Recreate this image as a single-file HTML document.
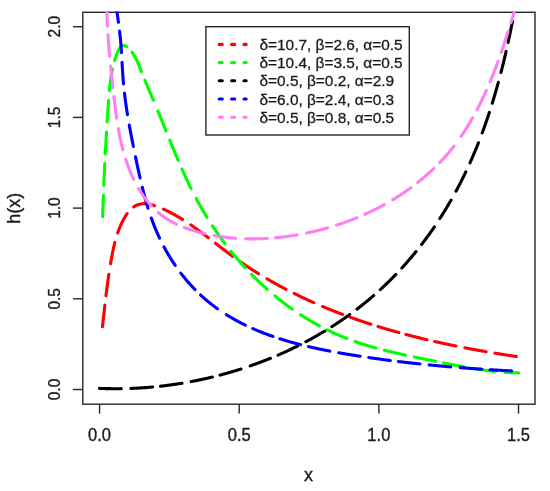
<!DOCTYPE html>
<html><head><meta charset="utf-8"><style>
html,body{margin:0;padding:0;background:#fff;}
body{width:550px;height:491px;overflow:hidden;}
svg{display:block;}
.tl{font-family:"Liberation Sans",Arial,sans-serif;font-size:18px;fill:#1a1a1a;stroke:#1a1a1a;stroke-width:0.35px;}
.lg{font-family:"Liberation Sans",Arial,sans-serif;font-size:15.4px;fill:#1a1a1a;stroke:#1a1a1a;stroke-width:0.3px;}
</style></head><body>
<svg width="550" height="491" viewBox="0 0 550 491">
<rect width="550" height="491" fill="#fff"/>
<defs><clipPath id="pc"><rect x="81.89999999999999" y="11.4" width="454.0" height="393.7"/></clipPath></defs>
<rect x="82.8" y="12.3" width="452.2" height="391.9" fill="none" stroke="#262626" stroke-width="1.4"/>
<g clip-path="url(#pc)" fill="none" stroke-linecap="round" stroke-linejoin="round">
<path d="M102.47,326.66 L102.47,326.64 L102.53,326.10 L102.59,325.57 L102.65,325.03 L102.71,324.49 L102.77,323.95 L102.83,323.41 L102.89,322.87 L102.95,322.33 L103.01,321.79 L103.07,321.25 L103.12,320.70 L103.18,320.16 L103.24,319.62 L103.30,319.08 L103.36,318.54 L103.42,318.00 L103.48,317.45 L103.54,316.91 L103.60,316.37 L103.66,315.82 L103.72,315.28 L103.78,314.74 L103.84,314.19 L103.91,313.65 L103.97,313.11 L104.03,312.56 L104.09,312.02 L104.15,311.47 L104.21,310.93 L104.27,310.38 L104.33,309.84 L104.39,309.29 L104.46,308.75 L104.52,308.20 L104.58,307.66 L104.64,307.11 L104.70,306.57 L104.77,306.02 L104.83,305.48 L104.87,305.09 M105.98,295.73 L105.99,295.65 L106.06,295.10 L106.13,294.56 L106.19,294.01 L106.26,293.47 L106.33,292.92 L106.40,292.38 L106.46,291.83 L106.53,291.29 L106.60,290.74 L106.67,290.20 L106.74,289.65 L106.81,289.11 L106.88,288.56 L106.95,288.02 L107.02,287.47 L107.09,286.93 L107.17,286.39 L107.24,285.84 L107.31,285.30 L107.38,284.76 L107.46,284.21 L107.53,283.67 L107.60,283.13 L107.68,282.58 L107.75,282.04 L107.83,281.50 L107.90,280.96 L107.98,280.42 L108.05,279.87 L108.13,279.33 L108.21,278.79 L108.28,278.25 L108.36,277.71 L108.44,277.17 L108.52,276.63 L108.60,276.09 L108.67,275.55 L108.75,275.01 L108.83,274.47 L108.87,274.23 M110.54,263.71 L110.56,263.60 L110.65,263.07 L110.75,262.54 L110.84,262.01 L110.93,261.48 L111.02,260.95 L111.11,260.42 L111.21,259.90 L111.30,259.37 L111.40,258.84 L111.49,258.32 L111.59,257.79 L111.69,257.26 L111.78,256.74 L111.88,256.22 L111.98,255.69 L112.08,255.17 L112.18,254.65 L112.28,254.13 L112.38,253.60 L112.48,253.08 L112.58,252.56 L112.69,252.04 L112.79,251.52 L112.89,251.01 L113.00,250.49 L113.11,249.97 L113.21,249.45 L113.32,248.93 L113.43,248.42 L113.54,247.90 L113.66,247.38 L113.77,246.87 L113.89,246.35 L114.01,245.83 L114.12,245.31 L114.25,244.80 L114.37,244.28 L114.49,243.76 L114.62,243.24 L114.75,242.73 L114.82,242.45 M117.64,232.99 L117.66,232.93 L117.85,232.40 L118.04,231.86 L118.24,231.33 L118.44,230.79 L118.64,230.25 L118.85,229.71 L119.06,229.17 L119.28,228.62 L119.50,228.08 L119.72,227.53 L119.95,226.98 L120.19,226.43 L120.42,225.88 L120.67,225.32 L120.91,224.77 L121.17,224.21 L121.42,223.66 L121.68,223.11 L121.95,222.55 L122.22,222.00 L122.49,221.45 L122.77,220.90 L123.06,220.36 L123.34,219.81 L123.64,219.27 L123.93,218.74 L124.23,218.20 L124.54,217.67 L124.85,217.15 L125.16,216.63 L125.48,216.12 L125.81,215.61 L126.13,215.11 L126.46,214.61 L126.80,214.12 L127.14,213.64 L127.19,213.58 M133.68,206.85 L133.70,206.84 L134.11,206.56 L134.53,206.29 L134.96,206.04 L135.38,205.81 L135.82,205.58 L136.25,205.37 L136.69,205.18 L137.13,205.00 L137.58,204.83 L138.03,204.67 L138.48,204.53 L138.94,204.40 L139.40,204.28 L139.86,204.18 L140.32,204.09 L140.79,204.00 L141.26,203.94 L141.73,203.88 L142.21,203.83 L142.69,203.79 L143.17,203.77 L143.65,203.76 L144.13,203.75 L144.62,203.76 L145.11,203.77 L145.60,203.80 L146.09,203.83 L146.59,203.88 L147.08,203.93 L147.58,203.99 L148.08,204.06 L148.58,204.14 L149.08,204.23 L149.59,204.32 L150.09,204.42 L150.60,204.53 L151.10,204.65 L151.61,204.78 L152.12,204.91 L152.63,205.04 L153.14,205.19 L153.65,205.34 L154.16,205.49 L154.54,205.62 M163.58,209.19 L163.65,209.22 L164.15,209.45 L164.65,209.68 L165.15,209.91 L165.65,210.15 L166.14,210.38 L166.64,210.62 L167.13,210.86 L167.63,211.10 L168.12,211.34 L168.61,211.59 L169.10,211.84 L169.59,212.09 L170.08,212.34 L170.56,212.59 L171.05,212.84 L171.53,213.10 L172.02,213.35 L172.50,213.61 L172.98,213.87 L173.46,214.14 L173.94,214.40 L174.42,214.67 L174.90,214.93 L175.38,215.20 L175.85,215.47 L176.33,215.74 L176.80,216.01 L177.28,216.29 L177.75,216.56 L178.22,216.84 L178.69,217.12 L179.16,217.40 L179.63,217.68 L180.10,217.96 L180.57,218.25 L181.04,218.53 L181.50,218.82 L181.97,219.11 L182.43,219.40 L182.64,219.53 M190.79,224.89 L190.83,224.91 L191.28,225.22 L191.73,225.53 L192.18,225.85 L192.63,226.16 L193.08,226.47 L193.53,226.79 L193.98,227.11 L194.42,227.42 L194.87,227.74 L195.32,228.06 L195.77,228.38 L196.21,228.70 L196.66,229.02 L197.10,229.34 L197.55,229.66 L197.99,229.99 L198.44,230.31 L198.88,230.64 L199.32,230.96 L199.76,231.29 L200.21,231.61 L200.65,231.94 L201.09,232.27 L201.53,232.60 L201.97,232.92 L202.41,233.25 L202.85,233.58 L203.29,233.91 L203.73,234.24 L204.17,234.58 L204.61,234.91 L205.05,235.24 L205.49,235.57 L205.93,235.90 L206.37,236.24 L206.80,236.57 L207.24,236.90 L207.68,237.24 L208.12,237.57 L208.30,237.71 M215.37,243.16 L215.39,243.18 L215.83,243.51 L216.26,243.85 L216.70,244.19 L217.13,244.52 L217.57,244.86 L218.00,245.20 L218.44,245.54 L218.88,245.87 L219.31,246.21 L219.75,246.54 L220.19,246.88 L220.62,247.22 L221.06,247.55 L221.49,247.89 L221.93,248.22 L222.37,248.56 L222.81,248.89 L223.24,249.23 L223.68,249.56 L224.12,249.90 L224.56,250.23 L224.99,250.56 L225.43,250.90 L225.87,251.23 L226.31,251.56 L226.75,251.89 L227.19,252.22 L227.63,252.55 L228.07,252.88 L228.51,253.21 L228.95,253.54 L229.39,253.87 L229.83,254.20 L230.27,254.53 L230.71,254.85 L231.15,255.18 L231.59,255.51 L232.04,255.83 L232.48,256.16 L232.65,256.28 M240.29,261.73 L240.37,261.78 L240.82,262.09 L241.27,262.40 L241.72,262.72 L242.17,263.03 L242.63,263.34 L243.08,263.64 L243.53,263.95 L243.98,264.26 L244.44,264.57 L244.89,264.87 L245.34,265.18 L245.80,265.48 L246.25,265.79 L246.71,266.09 L247.16,266.40 L247.62,266.70 L248.08,267.00 L248.53,267.30 L248.99,267.60 L249.45,267.90 L249.90,268.20 L250.36,268.50 L250.82,268.80 L251.28,269.09 L251.74,269.39 L252.20,269.69 L252.66,269.98 L253.12,270.28 L253.58,270.57 L254.04,270.86 L254.50,271.16 L254.96,271.45 L255.43,271.74 L255.89,272.03 L256.35,272.32 L256.81,272.61 L257.28,272.90 L257.74,273.19 L258.20,273.48 L258.44,273.62 M266.98,278.76 L267.09,278.83 L267.56,279.10 L268.03,279.38 L268.50,279.65 L268.97,279.93 L269.45,280.20 L269.92,280.47 L270.39,280.74 L270.86,281.01 L271.34,281.28 L271.81,281.55 L272.29,281.82 L272.76,282.09 L273.24,282.36 L273.71,282.63 L274.19,282.90 L274.66,283.16 L275.14,283.43 L275.61,283.69 L276.09,283.96 L276.57,284.22 L277.05,284.49 L277.52,284.75 L278.00,285.01 L278.48,285.27 L278.96,285.53 L279.44,285.79 L279.92,286.05 L280.40,286.31 L280.88,286.57 L281.36,286.83 L281.84,287.09 L282.32,287.34 L282.80,287.60 L283.28,287.86 L283.76,288.11 L284.24,288.37 L284.73,288.62 L285.21,288.87 L285.69,289.13 L285.96,289.27 M294.16,293.45 L294.27,293.50 L294.76,293.74 L295.25,293.98 L295.74,294.23 L296.23,294.47 L296.72,294.71 L297.21,294.95 L297.70,295.19 L298.19,295.42 L298.68,295.66 L299.17,295.90 L299.66,296.14 L300.15,296.37 L300.64,296.61 L301.13,296.84 L301.63,297.08 L302.12,297.31 L302.61,297.54 L303.10,297.78 L303.60,298.01 L304.09,298.24 L304.59,298.47 L305.08,298.70 L305.57,298.93 L306.07,299.16 L306.56,299.39 L307.06,299.62 L307.55,299.85 L308.05,300.08 L308.55,300.30 L309.04,300.53 L309.54,300.76 L310.04,300.98 L310.53,301.21 L311.03,301.43 L311.53,301.65 L312.03,301.88 L312.52,302.10 L313.02,302.32 L313.52,302.54 L313.80,302.67 M322.52,306.44 L322.54,306.44 L323.04,306.65 L323.54,306.86 L324.05,307.07 L324.55,307.28 L325.06,307.49 L325.56,307.70 L326.07,307.91 L326.57,308.12 L327.08,308.33 L327.58,308.54 L328.09,308.74 L328.59,308.95 L329.10,309.15 L329.60,309.36 L330.11,309.56 L330.62,309.77 L331.12,309.97 L331.63,310.17 L332.14,310.38 L332.65,310.58 L333.15,310.78 L333.66,310.98 L334.17,311.18 L334.68,311.38 L335.19,311.58 L335.70,311.78 L336.21,311.98 L336.72,312.18 L337.22,312.37 L337.73,312.57 L338.24,312.77 L338.75,312.96 L339.27,313.16 L339.78,313.36 L340.29,313.55 L340.80,313.74 L341.31,313.94 L341.82,314.13 L342.33,314.32 L342.69,314.46 M350.30,317.25 L350.37,317.28 L350.89,317.47 L351.40,317.65 L351.92,317.83 L352.43,318.02 L352.95,318.20 L353.47,318.38 L353.98,318.57 L354.50,318.75 L355.01,318.93 L355.53,319.11 L356.05,319.29 L356.57,319.47 L357.08,319.65 L357.60,319.83 L358.12,320.01 L358.64,320.18 L359.15,320.36 L359.67,320.54 L360.19,320.71 L360.71,320.89 L361.23,321.07 L361.74,321.24 L362.26,321.42 L362.78,321.59 L363.30,321.76 L363.82,321.94 L364.34,322.11 L364.86,322.28 L365.38,322.46 L365.90,322.63 L366.42,322.80 L366.94,322.97 L367.46,323.14 L367.98,323.31 L368.50,323.48 L369.03,323.65 L369.55,323.82 L370.07,323.98 L370.59,324.15 L370.84,324.23 M378.02,326.49 L378.08,326.51 L378.61,326.67 L379.13,326.83 L379.66,326.99 L380.18,327.15 L380.70,327.31 L381.23,327.47 L381.75,327.63 L382.28,327.79 L382.80,327.94 L383.33,328.10 L383.85,328.26 L384.38,328.41 L384.91,328.57 L385.43,328.73 L385.96,328.88 L386.48,329.04 L387.01,329.19 L387.54,329.34 L388.06,329.50 L388.59,329.65 L389.12,329.80 L389.64,329.96 L390.17,330.11 L390.70,330.26 L391.22,330.41 L391.75,330.56 L392.28,330.71 L392.81,330.86 L393.33,331.01 L393.86,331.16 L394.39,331.31 L394.92,331.46 L395.45,331.61 L395.97,331.75 L396.50,331.90 L397.03,332.05 L397.56,332.19 L398.09,332.34 L398.62,332.49 L398.86,332.55 M405.97,334.47 L406.03,334.48 L406.56,334.62 L407.09,334.76 L407.63,334.90 L408.16,335.04 L408.69,335.18 L409.22,335.32 L409.75,335.46 L410.28,335.59 L410.81,335.73 L411.34,335.87 L411.87,336.00 L412.41,336.14 L412.94,336.27 L413.47,336.41 L414.00,336.54 L414.53,336.68 L415.07,336.81 L415.60,336.94 L416.13,337.08 L416.66,337.21 L417.19,337.34 L417.73,337.47 L418.26,337.61 L418.79,337.74 L419.33,337.87 L419.86,338.00 L420.39,338.13 L420.92,338.26 L421.46,338.39 L421.99,338.52 L422.52,338.65 L423.06,338.78 L423.59,338.90 L424.12,339.03 L424.66,339.16 L425.19,339.29 L425.72,339.41 L426.26,339.54 L426.79,339.67 L427.03,339.72 M434.73,341.50 L434.81,341.52 L435.34,341.64 L435.88,341.76 L436.41,341.88 L436.95,342.00 L437.48,342.12 L438.02,342.24 L438.55,342.35 L439.09,342.47 L439.62,342.59 L440.16,342.71 L440.69,342.83 L441.23,342.94 L441.76,343.06 L442.30,343.18 L442.83,343.29 L443.37,343.41 L443.91,343.52 L444.44,343.64 L444.98,343.75 L445.51,343.87 L446.05,343.98 L446.58,344.10 L447.12,344.21 L447.66,344.32 L448.19,344.44 L448.73,344.55 L449.26,344.66 L449.80,344.77 L450.34,344.88 L450.87,345.00 L451.41,345.11 L451.94,345.22 L452.48,345.33 L453.02,345.44 L453.55,345.55 L454.09,345.66 L454.63,345.77 L455.16,345.87 L455.70,345.98 L455.95,346.03 M464.79,347.78 L464.82,347.78 L465.36,347.89 L465.89,347.99 L466.43,348.09 L466.97,348.20 L467.50,348.30 L468.04,348.40 L468.58,348.50 L469.11,348.60 L469.65,348.70 L470.19,348.80 L470.72,348.91 L471.26,349.01 L471.80,349.11 L472.33,349.21 L472.87,349.30 L473.41,349.40 L473.94,349.50 L474.48,349.60 L475.02,349.70 L475.56,349.80 L476.09,349.90 L476.63,349.99 L477.17,350.09 L477.70,350.19 L478.24,350.28 L478.78,350.38 L479.31,350.48 L479.85,350.57 L480.39,350.67 L480.92,350.76 L481.46,350.86 L482.00,350.95 L482.53,351.05 L483.07,351.14 L483.61,351.24 L484.14,351.33 L484.68,351.42 L485.21,351.52 L485.75,351.61 L486.14,351.68 M494.94,353.17 L495.05,353.18 L495.58,353.27 L496.12,353.36 L496.65,353.45 L497.19,353.54 L497.72,353.62 L498.26,353.71 L498.80,353.80 L499.33,353.88 L499.87,353.97 L500.40,354.06 L500.94,354.14 L501.47,354.23 L502.01,354.32 L502.55,354.40 L503.08,354.49 L503.62,354.57 L504.15,354.66 L504.69,354.74 L505.22,354.83 L505.76,354.91 L506.29,354.99 L506.83,355.08 L507.36,355.16 L507.90,355.24 L508.43,355.33 L508.97,355.41 L509.50,355.49 L510.03,355.57 L510.57,355.66 L511.10,355.74 L511.64,355.82 L512.17,355.90 L512.71,355.98 L513.24,356.06 L513.78,356.15 L514.31,356.23 L514.84,356.31 L515.38,356.39 L515.91,356.47 L516.37,356.54" stroke="#ff0000" stroke-width="3.1"/>
<path d="M102.64,216.71 L102.65,216.50 L102.67,215.76 L102.69,215.03 L102.72,214.30 L102.74,213.57 L102.77,212.84 L102.79,212.10 L102.82,211.37 L102.84,210.64 L102.86,209.91 L102.89,209.17 L102.91,208.44 L102.94,207.71 L102.97,206.98 L102.99,206.24 L103.02,205.51 L103.04,204.78 L103.07,204.04 L103.09,203.31 L103.12,202.58 L103.15,201.84 L103.17,201.11 L103.20,200.38 L103.23,199.64 L103.26,198.91 L103.28,198.18 L103.31,197.44 L103.34,196.71 L103.37,195.98 L103.40,195.24 L103.40,195.02 M103.80,185.27 L103.80,185.21 L103.83,184.47 L103.86,183.74 L103.89,183.00 L103.92,182.27 L103.95,181.53 L103.99,180.80 L104.02,180.07 L104.05,179.33 L104.08,178.60 L104.12,177.86 L104.15,177.13 L104.18,176.39 L104.21,175.66 L104.25,174.92 L104.28,174.19 L104.31,173.45 L104.35,172.72 L104.38,171.98 L104.42,171.25 L104.45,170.51 L104.48,169.78 L104.52,169.04 L104.55,168.31 L104.59,167.57 L104.62,166.84 L104.66,166.11 L104.69,165.37 L104.73,164.64 L104.77,163.90 L104.78,163.59 M105.28,153.82 L105.29,153.62 L105.33,152.89 L105.37,152.15 L105.41,151.42 L105.44,150.68 L105.48,149.95 L105.52,149.22 L105.56,148.48 L105.60,147.75 L105.64,147.01 L105.68,146.28 L105.73,145.55 L105.77,144.81 L105.81,144.08 L105.85,143.35 L105.89,142.61 L105.93,141.88 L105.97,141.15 L106.02,140.41 L106.06,139.68 L106.10,138.95 L106.14,138.21 L106.19,137.48 L106.23,136.75 L106.27,136.02 L106.32,135.28 L106.36,134.55 L106.40,133.82 L106.45,133.09 L106.49,132.35 L106.50,132.15 M107.14,122.01 L107.15,121.87 L107.19,121.14 L107.24,120.41 L107.29,119.68 L107.34,118.95 L107.38,118.22 L107.43,117.49 L107.48,116.76 L107.53,116.03 L107.58,115.30 L107.63,114.57 L107.68,113.84 L107.73,113.11 L107.78,112.38 L107.83,111.66 L107.88,110.93 L107.93,110.20 L107.98,109.47 L108.03,108.74 L108.08,108.01 L108.13,107.29 L108.18,106.56 L108.23,105.83 L108.28,105.10 L108.34,104.38 L108.39,103.65 L108.44,102.92 L108.49,102.20 L108.54,101.47 L108.60,100.74 L108.63,100.36 M109.41,90.47 L109.43,90.33 L109.49,89.61 L109.56,88.88 L109.63,88.15 L109.71,87.42 L109.78,86.69 L109.86,85.96 L109.94,85.23 L110.02,84.50 L110.11,83.77 L110.19,83.04 L110.28,82.30 L110.38,81.57 L110.47,80.83 L110.57,80.10 L110.67,79.36 L110.78,78.63 L110.89,77.89 L111.00,77.15 L111.12,76.41 L111.24,75.67 L111.36,74.93 L111.49,74.18 L111.62,73.44 L111.76,72.69 L111.90,71.94 L112.04,71.20 L112.19,70.45 L112.35,69.70 L112.49,69.01 M114.60,60.54 L114.66,60.31 L114.89,59.54 L115.12,58.77 L115.36,57.99 L115.60,57.22 L115.86,56.46 L116.11,55.70 L116.38,54.95 L116.65,54.21 L116.93,53.49 L117.22,52.78 L117.51,52.09 L117.82,51.42 L118.13,50.78 L118.45,50.16 L118.78,49.57 L119.11,49.02 L119.46,48.49 L119.82,48.00 L120.18,47.55 L120.55,47.14 L120.94,46.77 L121.33,46.44 L121.74,46.17 L122.15,45.94 L122.57,45.76 L123.01,45.64 L123.45,45.58 L123.91,45.57 L124.38,45.62 L124.86,45.74 L125.35,45.91 L125.84,46.14 L126.34,46.41 L126.76,46.68 M132.04,52.13 L132.07,52.16 L132.51,52.78 L132.94,53.40 L133.35,54.04 L133.76,54.68 L134.15,55.33 L134.54,55.99 L134.92,56.65 L135.29,57.33 L135.65,58.01 L136.00,58.69 L136.34,59.38 L136.68,60.08 L137.01,60.78 L137.34,61.48 L137.65,62.19 L137.97,62.91 L138.28,63.62 L138.58,64.34 L138.88,65.06 L139.18,65.78 L139.47,66.50 L139.76,67.23 L140.05,67.95 L140.33,68.68 L140.62,69.40 L140.90,70.12 L141.18,70.84 L141.47,71.56 L141.48,71.60 M144.94,80.19 L144.97,80.27 L145.25,80.96 L145.54,81.66 L145.82,82.35 L146.11,83.04 L146.39,83.72 L146.68,84.41 L146.96,85.10 L147.25,85.78 L147.53,86.46 L147.82,87.14 L148.11,87.82 L148.39,88.50 L148.68,89.18 L148.96,89.86 L149.25,90.53 L149.53,91.21 L149.82,91.88 L150.10,92.56 L150.39,93.23 L150.67,93.90 L150.96,94.57 L151.24,95.24 L151.52,95.91 L151.81,96.58 L152.09,97.25 L152.38,97.92 L152.66,98.58 L152.94,99.25 L153.23,99.92 L153.35,100.20 M157.84,110.85 L157.91,111.03 L158.19,111.69 L158.47,112.36 L158.74,113.03 L159.02,113.70 L159.30,114.37 L159.57,115.04 L159.85,115.71 L160.13,116.38 L160.40,117.05 L160.68,117.73 L160.95,118.40 L161.23,119.07 L161.50,119.74 L161.78,120.42 L162.05,121.09 L162.33,121.76 L162.60,122.43 L162.87,123.11 L163.15,123.78 L163.42,124.46 L163.69,125.13 L163.97,125.81 L164.24,126.48 L164.52,127.16 L164.79,127.83 L165.06,128.51 L165.34,129.18 L165.61,129.86 L165.88,130.54 L166.05,130.94 M169.77,140.14 L169.81,140.24 L170.09,140.92 L170.36,141.59 L170.64,142.27 L170.92,142.95 L171.19,143.63 L171.47,144.30 L171.75,144.98 L172.02,145.66 L172.30,146.34 L172.58,147.01 L172.86,147.69 L173.14,148.37 L173.42,149.05 L173.70,149.72 L173.98,150.40 L174.26,151.08 L174.54,151.76 L174.82,152.43 L175.10,153.11 L175.38,153.79 L175.67,154.46 L175.95,155.14 L176.23,155.82 L176.52,156.49 L176.80,157.17 L177.09,157.84 L177.38,158.52 L177.66,159.19 L177.95,159.87 L178.09,160.19 M181.92,169.01 L181.95,169.07 L182.24,169.74 L182.54,170.42 L182.84,171.09 L183.14,171.76 L183.44,172.43 L183.75,173.10 L184.05,173.77 L184.35,174.43 L184.66,175.10 L184.96,175.77 L185.27,176.44 L185.58,177.11 L185.89,177.77 L186.20,178.44 L186.51,179.11 L186.82,179.77 L187.13,180.44 L187.45,181.10 L187.76,181.77 L188.08,182.43 L188.39,183.09 L188.71,183.76 L189.03,184.42 L189.35,185.08 L189.67,185.74 L190.00,186.40 L190.32,187.06 L190.64,187.72 L190.97,188.38 L191.11,188.66 M196.17,198.48 L196.25,198.63 L196.59,199.28 L196.94,199.92 L197.29,200.57 L197.65,201.22 L198.00,201.86 L198.35,202.51 L198.71,203.15 L199.07,203.80 L199.43,204.44 L199.79,205.08 L200.15,205.72 L200.51,206.36 L200.88,207.00 L201.24,207.64 L201.61,208.28 L201.98,208.92 L202.35,209.56 L202.72,210.19 L203.09,210.83 L203.47,211.46 L203.84,212.10 L204.22,212.73 L204.60,213.36 L204.98,214.00 L205.36,214.63 L205.74,215.26 L206.13,215.89 L206.51,216.51 L206.90,217.14 L206.99,217.29 M212.43,225.81 L212.45,225.84 L212.86,226.46 L213.27,227.07 L213.68,227.68 L214.09,228.29 L214.50,228.91 L214.91,229.52 L215.33,230.13 L215.74,230.73 L216.16,231.34 L216.58,231.95 L217.00,232.55 L217.42,233.16 L217.84,233.76 L218.26,234.37 L218.69,234.97 L219.12,235.57 L219.54,236.17 L219.97,236.77 L220.40,237.37 L220.83,237.96 L221.27,238.56 L221.70,239.16 L222.14,239.75 L222.57,240.34 L223.01,240.94 L223.45,241.53 L223.89,242.12 L224.33,242.71 L224.78,243.29 L224.95,243.52 M231.00,251.28 L231.12,251.42 L231.58,252.00 L232.04,252.57 L232.51,253.14 L232.98,253.71 L233.44,254.28 L233.91,254.84 L234.38,255.41 L234.85,255.97 L235.33,256.54 L235.80,257.10 L236.27,257.66 L236.75,258.22 L237.23,258.78 L237.71,259.34 L238.19,259.90 L238.67,260.45 L239.15,261.01 L239.63,261.56 L240.12,262.11 L240.60,262.66 L241.09,263.21 L241.58,263.76 L242.07,264.31 L242.56,264.86 L243.05,265.40 L243.55,265.95 L244.04,266.49 L244.54,267.03 L245.03,267.57 L245.16,267.71 M251.45,274.33 L251.61,274.49 L252.12,275.01 L252.64,275.53 L253.15,276.05 L253.67,276.57 L254.19,277.09 L254.71,277.61 L255.23,278.12 L255.75,278.64 L256.28,279.15 L256.80,279.66 L257.33,280.17 L257.86,280.68 L258.38,281.19 L258.91,281.70 L259.45,282.20 L259.98,282.71 L260.51,283.21 L261.04,283.71 L261.58,284.21 L262.12,284.71 L262.65,285.20 L263.19,285.70 L263.73,286.19 L264.27,286.69 L264.82,287.18 L265.36,287.67 L265.91,288.16 L266.45,288.64 L267.00,289.13 L267.17,289.28 M275.04,296.00 L275.15,296.09 L275.72,296.55 L276.28,297.02 L276.85,297.48 L277.42,297.94 L277.99,298.39 L278.56,298.85 L279.13,299.30 L279.70,299.76 L280.28,300.21 L280.85,300.66 L281.43,301.11 L282.01,301.55 L282.58,302.00 L283.16,302.44 L283.74,302.88 L284.33,303.32 L284.91,303.76 L285.49,304.20 L286.08,304.64 L286.66,305.07 L287.25,305.51 L287.84,305.94 L288.43,306.37 L289.02,306.80 L289.61,307.22 L290.20,307.65 L290.80,308.07 L291.39,308.49 L291.99,308.91 L292.31,309.14 M300.72,314.81 L300.85,314.89 L301.47,315.29 L302.08,315.68 L302.70,316.07 L303.31,316.46 L303.93,316.85 L304.55,317.24 L305.17,317.62 L305.79,318.00 L306.41,318.38 L307.03,318.76 L307.65,319.14 L308.28,319.52 L308.90,319.89 L309.53,320.26 L310.16,320.64 L310.79,321.00 L311.41,321.37 L312.05,321.74 L312.68,322.10 L313.31,322.46 L313.94,322.82 L314.58,323.18 L315.21,323.54 L315.85,323.90 L316.49,324.25 L317.13,324.60 L317.77,324.95 L318.41,325.30 L319.05,325.64 L319.40,325.83 M327.05,329.77 L327.27,329.87 L327.93,330.19 L328.58,330.51 L329.24,330.83 L329.90,331.15 L330.56,331.46 L331.22,331.77 L331.88,332.08 L332.54,332.39 L333.21,332.70 L333.87,333.00 L334.54,333.30 L335.20,333.60 L335.87,333.90 L336.54,334.20 L337.21,334.49 L337.88,334.79 L338.55,335.08 L339.22,335.37 L339.90,335.65 L340.57,335.94 L341.25,336.22 L341.92,336.50 L342.60,336.78 L343.28,337.06 L343.96,337.33 L344.64,337.61 L345.32,337.88 L346.00,338.15 L346.68,338.41 L346.91,338.50 M355.16,341.54 L355.18,341.55 L355.88,341.79 L356.57,342.03 L357.27,342.27 L357.97,342.51 L358.67,342.74 L359.37,342.98 L360.06,343.21 L360.77,343.44 L361.47,343.67 L362.17,343.89 L362.87,344.12 L363.57,344.34 L364.28,344.56 L364.98,344.78 L365.69,345.00 L366.39,345.22 L367.10,345.44 L367.81,345.65 L368.51,345.86 L369.22,346.07 L369.93,346.28 L370.64,346.49 L371.35,346.70 L372.06,346.90 L372.77,347.11 L373.49,347.31 L374.20,347.51 L374.91,347.71 L375.62,347.91 L375.88,347.98 M384.38,350.23 L384.46,350.25 L385.18,350.43 L385.90,350.61 L386.62,350.79 L387.34,350.97 L388.06,351.15 L388.78,351.33 L389.50,351.50 L390.22,351.68 L390.95,351.85 L391.67,352.02 L392.39,352.19 L393.11,352.36 L393.83,352.53 L394.56,352.70 L395.28,352.87 L396.00,353.04 L396.73,353.20 L397.45,353.37 L398.18,353.53 L398.90,353.70 L399.62,353.86 L400.35,354.02 L401.07,354.18 L401.80,354.34 L402.52,354.50 L403.25,354.66 L403.97,354.82 L404.70,354.98 L405.42,355.14 L405.51,355.16 M414.32,357.02 L414.36,357.03 L415.09,357.18 L415.81,357.32 L416.54,357.47 L417.26,357.62 L417.99,357.77 L418.71,357.92 L419.43,358.07 L420.16,358.21 L420.88,358.36 L421.60,358.51 L422.33,358.65 L423.05,358.80 L423.77,358.94 L424.50,359.09 L425.22,359.23 L425.94,359.38 L426.66,359.52 L427.38,359.67 L428.10,359.81 L428.82,359.96 L429.55,360.10 L430.27,360.24 L430.99,360.39 L431.71,360.53 L432.42,360.68 L433.14,360.82 L433.86,360.96 L434.58,361.11 L435.30,361.25 L435.59,361.31 M443.55,362.90 L443.64,362.92 L444.36,363.07 L445.07,363.21 L445.78,363.35 L446.50,363.49 L447.21,363.63 L447.92,363.78 L448.63,363.92 L449.35,364.06 L450.06,364.20 L450.77,364.34 L451.48,364.48 L452.19,364.62 L452.90,364.75 L453.62,364.89 L454.33,365.03 L455.04,365.17 L455.75,365.30 L456.46,365.44 L457.17,365.58 L457.88,365.71 L458.59,365.85 L459.31,365.98 L460.02,366.11 L460.73,366.25 L461.44,366.38 L462.15,366.51 L462.86,366.64 L463.58,366.77 L464.29,366.90 L464.86,367.00 M474.03,368.57 L474.04,368.57 L474.76,368.68 L475.47,368.80 L476.19,368.91 L476.91,369.02 L477.62,369.13 L478.34,369.24 L479.06,369.35 L479.78,369.46 L480.50,369.56 L481.22,369.67 L481.94,369.77 L482.66,369.87 L483.38,369.97 L484.10,370.07 L484.82,370.17 L485.55,370.27 L486.27,370.36 L486.99,370.46 L487.72,370.55 L488.44,370.64 L489.17,370.73 L489.90,370.82 L490.62,370.90 L491.35,370.99 L492.08,371.07 L492.81,371.15 L493.54,371.23 L494.27,371.31 L495.00,371.39 L495.53,371.44 M504.80,372.24 L504.84,372.24 L505.58,372.29 L506.32,372.34 L507.07,372.39 L507.82,372.43 L508.57,372.48 L509.31,372.52 L510.06,372.56 L510.82,372.59 L511.57,372.63 L512.32,372.66 L513.08,372.69 L513.83,372.72 L514.59,372.75 L515.35,372.77 L516.10,372.79 L516.86,372.81 L517.63,372.83 L518.39,372.84 L518.64,372.85" stroke="#00ff00" stroke-width="3.1"/>
<path d="M99.50,388.37 L99.67,388.38 L100.27,388.40 L100.87,388.43 L101.48,388.45 L102.08,388.47 L102.68,388.49 L103.28,388.51 L103.89,388.53 L104.49,388.55 L105.09,388.56 L105.70,388.58 L106.30,388.59 L106.91,388.61 L107.51,388.62 L108.11,388.63 L108.72,388.65 L109.32,388.66 L109.93,388.66 L110.53,388.67 L111.14,388.68 L111.74,388.69 L112.35,388.69 L112.95,388.70 L113.56,388.70 L114.16,388.70 L114.77,388.71 L115.37,388.71 L115.98,388.71 L116.58,388.71 L117.19,388.70 L117.80,388.70 L118.40,388.70 L119.01,388.69 L119.61,388.69 L120.22,388.68 L120.83,388.67 L121.20,388.67 M130.96,388.41 L131.14,388.41 L131.75,388.38 L132.36,388.36 L132.97,388.33 L133.57,388.31 L134.18,388.28 L134.79,388.25 L135.40,388.22 L136.00,388.19 L136.61,388.16 L137.22,388.13 L137.83,388.09 L138.44,388.06 L139.04,388.02 L139.65,387.99 L140.26,387.95 L140.87,387.91 L141.47,387.87 L142.08,387.83 L142.69,387.79 L143.30,387.75 L143.91,387.71 L144.51,387.67 L145.12,387.62 L145.73,387.58 L146.34,387.53 L146.95,387.48 L147.55,387.44 L148.16,387.39 L148.77,387.34 L149.38,387.29 L149.99,387.23 L150.59,387.18 L151.20,387.13 L151.81,387.07 L152.42,387.02 L152.61,387.00 M160.49,386.20 L160.52,386.19 L161.13,386.13 L161.74,386.06 L162.34,385.99 L162.95,385.92 L163.56,385.84 L164.16,385.77 L164.77,385.70 L165.38,385.62 L165.99,385.55 L166.59,385.47 L167.20,385.39 L167.81,385.31 L168.41,385.24 L169.02,385.16 L169.63,385.07 L170.23,384.99 L170.84,384.91 L171.45,384.83 L172.05,384.74 L172.66,384.66 L173.27,384.57 L173.87,384.48 L174.48,384.39 L175.09,384.30 L175.69,384.21 L176.30,384.12 L176.90,384.03 L177.51,383.94 L178.11,383.84 L178.72,383.75 L179.33,383.65 L179.93,383.56 L180.54,383.46 L181.14,383.36 L181.75,383.26 L181.98,383.22 M191.21,381.59 L191.41,381.55 L192.01,381.44 L192.62,381.32 L193.22,381.21 L193.82,381.09 L194.43,380.97 L195.03,380.85 L195.63,380.73 L196.23,380.61 L196.83,380.49 L197.44,380.37 L198.04,380.25 L198.64,380.12 L199.24,380.00 L199.84,379.87 L200.44,379.74 L201.04,379.62 L201.64,379.49 L202.24,379.36 L202.84,379.23 L203.44,379.09 L204.04,378.96 L204.64,378.83 L205.24,378.70 L205.84,378.56 L206.44,378.42 L207.04,378.29 L207.64,378.15 L208.24,378.01 L208.84,377.87 L209.44,377.73 L210.03,377.59 L210.63,377.45 L211.23,377.30 L211.83,377.16 L212.42,377.02 M220.09,375.08 L220.17,375.05 L220.77,374.90 L221.36,374.74 L221.96,374.58 L222.55,374.42 L223.14,374.26 L223.74,374.10 L224.33,373.93 L224.92,373.77 L225.52,373.61 L226.11,373.44 L226.70,373.28 L227.29,373.11 L227.89,372.94 L228.48,372.77 L229.07,372.60 L229.66,372.43 L230.25,372.26 L230.84,372.09 L231.43,371.92 L232.02,371.74 L232.61,371.57 L233.20,371.39 L233.79,371.21 L234.38,371.04 L234.97,370.86 L235.56,370.68 L236.14,370.50 L236.73,370.32 L237.32,370.14 L237.91,369.95 L238.49,369.77 L239.08,369.59 L239.67,369.40 L240.25,369.21 L240.84,369.03 L240.92,369.00 M250.19,365.91 L250.37,365.85 L250.95,365.64 L251.53,365.44 L252.11,365.24 L252.69,365.03 L253.27,364.83 L253.85,364.62 L254.43,364.41 L255.01,364.20 L255.58,364.00 L256.16,363.78 L256.74,363.57 L257.32,363.36 L257.89,363.15 L258.47,362.94 L259.05,362.72 L259.62,362.51 L260.20,362.29 L260.77,362.07 L261.35,361.86 L261.92,361.64 L262.50,361.42 L263.07,361.20 L263.64,360.97 L264.22,360.75 L264.79,360.53 L265.36,360.31 L265.94,360.08 L266.51,359.86 L267.08,359.63 L267.65,359.40 L268.22,359.17 L268.79,358.94 L269.36,358.71 L269.93,358.48 L270.49,358.26 M278.04,355.08 L278.05,355.08 L278.61,354.84 L279.18,354.59 L279.74,354.34 L280.30,354.10 L280.86,353.85 L281.43,353.60 L281.99,353.35 L282.55,353.10 L283.11,352.85 L283.67,352.60 L284.23,352.35 L284.79,352.09 L285.34,351.84 L285.90,351.59 L286.46,351.33 L287.02,351.07 L287.57,350.81 L288.13,350.56 L288.69,350.30 L289.24,350.04 L289.80,349.78 L290.35,349.51 L290.91,349.25 L291.46,348.99 L292.01,348.72 L292.57,348.46 L293.12,348.19 L293.67,347.92 L294.22,347.66 L294.77,347.39 L295.33,347.12 L295.88,346.85 L296.43,346.57 L296.98,346.30 L297.52,346.03 L297.72,345.93 M305.93,341.71 L306.06,341.64 L306.60,341.35 L307.14,341.07 L307.68,340.78 L308.22,340.49 L308.76,340.20 L309.30,339.91 L309.84,339.61 L310.37,339.32 L310.91,339.03 L311.45,338.73 L311.98,338.44 L312.52,338.14 L313.05,337.84 L313.59,337.54 L314.12,337.24 L314.66,336.95 L315.19,336.64 L315.72,336.34 L316.25,336.04 L316.78,335.74 L317.31,335.43 L317.84,335.13 L318.37,334.82 L318.90,334.52 L319.43,334.21 L319.96,333.90 L320.49,333.59 L321.01,333.28 L321.54,332.97 L322.07,332.66 L322.59,332.35 L323.12,332.03 L323.64,331.72 L324.17,331.40 L324.69,331.09 L324.81,331.01 M331.80,326.68 L331.95,326.58 L332.47,326.25 L332.98,325.92 L333.49,325.59 L334.01,325.26 L334.52,324.93 L335.03,324.60 L335.54,324.27 L336.05,323.93 L336.56,323.60 L337.07,323.26 L337.58,322.92 L338.09,322.59 L338.60,322.25 L339.10,321.91 L339.61,321.57 L340.12,321.23 L340.62,320.89 L341.13,320.55 L341.63,320.20 L342.13,319.86 L342.64,319.51 L343.14,319.17 L343.64,318.82 L344.14,318.47 L344.64,318.13 L345.14,317.78 L345.64,317.43 L346.14,317.08 L346.63,316.73 L347.13,316.37 L347.63,316.02 L348.12,315.67 L348.62,315.31 L349.11,314.96 L349.61,314.60 L349.75,314.49 M356.93,309.16 L356.93,309.16 L357.42,308.79 L357.90,308.42 L358.38,308.04 L358.86,307.67 L359.34,307.30 L359.82,306.93 L360.30,306.55 L360.78,306.18 L361.26,305.80 L361.74,305.42 L362.21,305.05 L362.69,304.67 L363.16,304.29 L363.64,303.91 L364.11,303.53 L364.59,303.15 L365.06,302.76 L365.53,302.38 L366.00,302.00 L366.47,301.61 L366.94,301.22 L367.41,300.84 L367.88,300.45 L368.34,300.06 L368.81,299.67 L369.28,299.28 L369.74,298.89 L370.21,298.50 L370.67,298.11 L371.13,297.72 L371.60,297.32 L372.06,296.93 L372.52,296.53 L372.98,296.13 L373.44,295.74 L373.75,295.47 M380.29,289.63 L380.39,289.55 L380.84,289.14 L381.28,288.72 L381.73,288.31 L382.17,287.90 L382.62,287.49 L383.06,287.07 L383.50,286.66 L383.94,286.24 L384.39,285.82 L384.83,285.41 L385.27,284.99 L385.70,284.57 L386.14,284.15 L386.58,283.73 L387.02,283.31 L387.45,282.89 L387.89,282.46 L388.32,282.04 L388.75,281.61 L389.19,281.19 L389.62,280.76 L390.05,280.34 L390.48,279.91 L390.91,279.48 L391.34,279.05 L391.77,278.62 L392.19,278.19 L392.62,277.76 L393.05,277.33 L393.47,276.89 L393.90,276.46 L394.32,276.02 L394.74,275.59 L395.16,275.15 L395.59,274.72 L395.82,274.48 M401.87,268.02 L401.95,267.93 L402.36,267.48 L402.77,267.03 L403.17,266.58 L403.58,266.13 L403.98,265.68 L404.39,265.22 L404.79,264.77 L405.20,264.32 L405.60,263.86 L406.00,263.41 L406.40,262.95 L406.80,262.50 L407.20,262.04 L407.60,261.58 L408.00,261.12 L408.40,260.66 L408.79,260.20 L409.19,259.74 L409.58,259.28 L409.98,258.82 L410.37,258.36 L410.76,257.89 L411.16,257.43 L411.55,256.96 L411.94,256.50 L412.33,256.03 L412.72,255.56 L413.10,255.10 L413.49,254.63 L413.88,254.16 L414.26,253.69 L414.65,253.22 L415.03,252.75 L415.42,252.28 L415.80,251.81 L416.00,251.55 M421.58,244.48 L421.70,244.32 L422.07,243.84 L422.44,243.36 L422.80,242.87 L423.17,242.39 L423.54,241.90 L423.91,241.42 L424.27,240.93 L424.64,240.44 L425.00,239.95 L425.36,239.47 L425.72,238.98 L426.09,238.49 L426.45,238.00 L426.81,237.51 L427.17,237.01 L427.52,236.52 L427.88,236.03 L428.24,235.54 L428.60,235.04 L428.95,234.55 L429.31,234.05 L429.66,233.56 L430.01,233.06 L430.37,232.56 L430.72,232.07 L431.07,231.57 L431.42,231.07 L431.77,230.57 L432.12,230.07 L432.46,229.57 L432.81,229.07 L433.16,228.57 L433.50,228.06 L433.85,227.56 L434.19,227.06 L434.30,226.90 M439.84,218.54 L439.92,218.41 L440.25,217.90 L440.58,217.39 L440.91,216.87 L441.24,216.36 L441.57,215.84 L441.89,215.33 L442.22,214.81 L442.54,214.29 L442.87,213.77 L443.19,213.26 L443.51,212.74 L443.84,212.22 L444.16,211.70 L444.48,211.18 L444.80,210.66 L445.12,210.14 L445.43,209.61 L445.75,209.09 L446.07,208.57 L446.38,208.04 L446.70,207.52 L447.01,207.00 L447.33,206.47 L447.64,205.95 L447.95,205.42 L448.26,204.89 L448.57,204.37 L448.88,203.84 L449.19,203.31 L449.50,202.78 L449.81,202.25 L450.11,201.73 L450.42,201.20 L450.72,200.66 L451.03,200.13 L451.10,200.00 M456.02,191.14 L456.08,191.04 L456.37,190.50 L456.66,189.96 L456.95,189.42 L457.24,188.88 L457.53,188.34 L457.81,187.80 L458.10,187.25 L458.38,186.71 L458.67,186.17 L458.95,185.63 L459.23,185.08 L459.52,184.54 L459.80,183.99 L460.08,183.45 L460.36,182.90 L460.64,182.36 L460.91,181.81 L461.19,181.26 L461.47,180.72 L461.74,180.17 L462.02,179.62 L462.29,179.07 L462.57,178.52 L462.84,177.97 L463.11,177.43 L463.38,176.88 L463.65,176.32 L463.92,175.77 L464.19,175.22 L464.46,174.67 L464.73,174.12 L465.00,173.57 L465.26,173.01 L465.53,172.46 L465.79,171.91 L465.84,171.80 M470.00,162.81 L470.09,162.62 L470.34,162.06 L470.59,161.50 L470.84,160.94 L471.08,160.38 L471.33,159.82 L471.58,159.26 L471.83,158.69 L472.07,158.13 L472.32,157.57 L472.56,157.01 L472.80,156.44 L473.05,155.88 L473.29,155.31 L473.53,154.75 L473.77,154.18 L474.01,153.62 L474.25,153.05 L474.49,152.49 L474.72,151.92 L474.96,151.35 L475.20,150.78 L475.43,150.22 L475.67,149.65 L475.90,149.08 L476.13,148.51 L476.37,147.94 L476.60,147.38 L476.83,146.81 L477.06,146.24 L477.29,145.67 L477.52,145.10 L477.74,144.53 L477.97,143.96 L478.20,143.38 L478.42,142.81 M482.20,132.95 L482.23,132.86 L482.44,132.29 L482.66,131.71 L482.87,131.13 L483.08,130.56 L483.29,129.98 L483.50,129.40 L483.71,128.82 L483.92,128.24 L484.12,127.67 L484.33,127.09 L484.54,126.51 L484.74,125.93 L484.95,125.35 L485.15,124.77 L485.36,124.19 L485.56,123.61 L485.76,123.03 L485.97,122.45 L486.17,121.87 L486.37,121.29 L486.57,120.71 L486.77,120.13 L486.97,119.54 L487.17,118.96 L487.36,118.38 L487.56,117.80 L487.76,117.22 L487.95,116.63 L488.15,116.05 L488.34,115.47 L488.53,114.88 L488.73,114.30 L488.92,113.72 L489.11,113.13 L489.30,112.55 L489.33,112.46 M492.28,103.19 L492.28,103.18 L492.46,102.59 L492.64,102.01 L492.82,101.42 L493.00,100.83 L493.18,100.25 L493.36,99.66 L493.54,99.07 L493.71,98.48 L493.89,97.89 L494.07,97.31 L494.24,96.72 L494.42,96.13 L494.59,95.54 L494.76,94.95 L494.94,94.36 L495.11,93.77 L495.28,93.18 L495.45,92.60 L495.62,92.01 L495.79,91.42 L495.96,90.83 L496.13,90.24 L496.30,89.65 L496.47,89.06 L496.63,88.47 L496.80,87.88 L496.97,87.29 L497.13,86.70 L497.30,86.11 L497.46,85.52 L497.63,84.93 L497.79,84.34 L497.95,83.74 L498.12,83.15 L498.28,82.56 L498.33,82.36 M500.96,72.48 L501.00,72.31 L501.15,71.72 L501.31,71.12 L501.46,70.53 L501.61,69.94 L501.76,69.35 L501.91,68.76 L502.06,68.16 L502.21,67.57 L502.36,66.98 L502.50,66.39 L502.65,65.79 L502.80,65.20 L502.95,64.61 L503.09,64.02 L503.24,63.42 L503.38,62.83 L503.53,62.24 L503.67,61.65 L503.82,61.05 L503.96,60.46 L504.10,59.87 L504.24,59.27 L504.39,58.68 L504.53,58.09 L504.67,57.50 L504.81,56.90 L504.95,56.31 L505.09,55.72 L505.23,55.13 L505.37,54.53 L505.50,53.94 L505.64,53.35 L505.78,52.76 L505.92,52.16 L506.05,51.57 L506.09,51.40 M508.11,42.38 L508.13,42.29 L508.26,41.70 L508.39,41.11 L508.52,40.52 L508.65,39.92 L508.77,39.33 L508.90,38.74 L509.03,38.15 L509.15,37.56 L509.28,36.97 L509.40,36.37 L509.53,35.78 L509.65,35.19 L509.78,34.60 L509.90,34.01 L510.03,33.42 L510.15,32.83 L510.27,32.24 L510.39,31.65 L510.52,31.06 L510.64,30.47 L510.76,29.88 L510.88,29.29 L511.00,28.69 L511.12,28.10 L511.24,27.51 L511.36,26.92 L511.48,26.34 L511.60,25.75 L511.72,25.16 L511.83,24.57 L511.95,23.98 L512.07,23.39 L512.18,22.80 L512.30,22.21 L512.42,21.62 L512.49,21.23" stroke="#000000" stroke-width="3.1"/>
<path d="M116.91,10.99 L116.89,10.87 L116.84,10.57 L116.81,10.34 L116.78,10.17 L116.77,10.07 L116.76,10.04 L116.76,10.06 L116.77,10.14 L116.78,10.28 L116.81,10.47 L116.84,10.71 L116.87,10.99 L116.92,11.33 L116.97,11.70 L117.02,12.11 L117.08,12.56 L117.15,13.05 L117.22,13.57 L117.29,14.11 L117.37,14.69 L117.45,15.28 L117.54,15.90 L117.62,16.54 L117.71,17.19 L117.80,17.86 L117.90,18.54 L117.99,19.23 L118.09,19.92 L118.18,20.62 L118.28,21.32 L118.38,22.01 L118.41,22.24 M119.57,31.06 L119.58,31.18 L119.66,31.85 L119.74,32.53 L119.82,33.20 L119.89,33.88 L119.96,34.55 L120.04,35.22 L120.11,35.88 L120.17,36.55 L120.24,37.22 L120.31,37.88 L120.37,38.54 L120.43,39.20 L120.49,39.87 L120.55,40.52 L120.61,41.18 L120.67,41.84 L120.73,42.49 L120.78,43.15 L120.83,43.80 L120.89,44.45 L120.94,45.10 L120.99,45.75 L121.04,46.40 L121.09,47.05 L121.14,47.69 L121.18,48.34 L121.23,48.98 L121.27,49.63 L121.32,50.27 L121.36,50.91 L121.40,51.55 L121.45,52.19 L121.48,52.68 M122.06,62.31 L122.06,62.33 L122.09,62.96 L122.13,63.58 L122.17,64.21 L122.20,64.84 L122.24,65.47 L122.27,66.09 L122.31,66.72 L122.35,67.34 L122.38,67.97 L122.42,68.59 L122.46,69.22 L122.50,69.84 L122.53,70.46 L122.57,71.09 L122.61,71.71 L122.65,72.33 L122.69,72.96 L122.73,73.58 L122.77,74.20 L122.81,74.82 L122.86,75.45 L122.90,76.07 L122.94,76.69 L122.99,77.31 L123.03,77.93 L123.08,78.56 L123.13,79.18 L123.17,79.80 L123.22,80.42 L123.27,81.05 L123.32,81.67 L123.38,82.29 L123.43,82.91 L123.48,83.54 L123.52,83.96 M124.46,93.17 L124.48,93.32 L124.55,93.95 L124.63,94.58 L124.70,95.20 L124.78,95.83 L124.86,96.46 L124.93,97.09 L125.01,97.71 L125.09,98.34 L125.17,98.97 L125.26,99.60 L125.34,100.22 L125.42,100.85 L125.51,101.48 L125.59,102.11 L125.68,102.74 L125.77,103.37 L125.86,104.00 L125.95,104.62 L126.04,105.25 L126.13,105.88 L126.22,106.51 L126.31,107.14 L126.41,107.77 L126.50,108.40 L126.60,109.03 L126.69,109.66 L126.79,110.29 L126.89,110.92 L126.99,111.55 L127.09,112.18 L127.19,112.81 L127.29,113.44 L127.39,114.07 L127.48,114.65 M129.28,125.08 L129.30,125.22 L129.42,125.85 L129.53,126.48 L129.64,127.11 L129.76,127.74 L129.88,128.38 L129.99,129.01 L130.11,129.64 L130.23,130.27 L130.35,130.90 L130.47,131.53 L130.58,132.16 L130.70,132.79 L130.82,133.43 L130.94,134.06 L131.07,134.69 L131.19,135.32 L131.31,135.95 L131.43,136.58 L131.55,137.21 L131.68,137.84 L131.80,138.47 L131.92,139.10 L132.05,139.73 L132.17,140.37 L132.30,141.00 L132.42,141.63 L132.55,142.26 L132.67,142.89 L132.80,143.52 L132.92,144.15 L133.05,144.78 L133.18,145.41 L133.31,146.04 L133.38,146.39 M135.50,156.73 L135.54,156.94 L135.67,157.56 L135.80,158.19 L135.93,158.82 L136.06,159.45 L136.19,160.07 L136.32,160.70 L136.45,161.33 L136.58,161.95 L136.71,162.58 L136.85,163.20 L136.98,163.83 L137.11,164.46 L137.24,165.08 L137.38,165.71 L137.51,166.33 L137.64,166.96 L137.77,167.58 L137.91,168.20 L138.04,168.83 L138.18,169.45 L138.31,170.08 L138.45,170.70 L138.58,171.32 L138.72,171.95 L138.86,172.57 L138.99,173.19 L139.13,173.81 L139.27,174.44 L139.41,175.06 L139.55,175.68 L139.69,176.30 L139.83,176.92 L139.97,177.54 L140.06,177.95 M142.26,187.25 L142.31,187.44 L142.46,188.05 L142.62,188.67 L142.77,189.28 L142.93,189.90 L143.08,190.51 L143.24,191.13 L143.40,191.74 L143.56,192.36 L143.72,192.97 L143.88,193.58 L144.04,194.20 L144.20,194.81 L144.36,195.42 L144.53,196.03 L144.69,196.64 L144.86,197.25 L145.03,197.86 L145.20,198.47 L145.37,199.08 L145.54,199.69 L145.71,200.30 L145.88,200.91 L146.06,201.52 L146.23,202.13 L146.41,202.73 L146.59,203.34 L146.76,203.95 L146.94,204.55 L147.13,205.16 L147.31,205.76 L147.49,206.37 L147.68,206.97 L147.86,207.58 L148.04,208.16 M151.32,218.03 L151.38,218.18 L151.59,218.77 L151.80,219.37 L152.02,219.96 L152.24,220.56 L152.46,221.15 L152.68,221.74 L152.90,222.34 L153.12,222.93 L153.35,223.52 L153.58,224.11 L153.81,224.70 L154.04,225.29 L154.27,225.88 L154.50,226.47 L154.74,227.06 L154.98,227.65 L155.21,228.24 L155.46,228.82 L155.70,229.41 L155.94,230.00 L156.19,230.58 L156.44,231.17 L156.69,231.75 L156.94,232.33 L157.20,232.92 L157.45,233.50 L157.71,234.08 L157.97,234.66 L158.23,235.24 L158.49,235.83 L158.76,236.41 L159.03,236.98 L159.30,237.56 L159.55,238.10 M164.00,246.94 L164.09,247.11 L164.40,247.68 L164.70,248.24 L165.01,248.81 L165.32,249.37 L165.64,249.94 L165.95,250.50 L166.27,251.06 L166.59,251.62 L166.91,252.18 L167.23,252.74 L167.55,253.30 L167.88,253.85 L168.21,254.41 L168.54,254.96 L168.87,255.52 L169.20,256.07 L169.54,256.62 L169.88,257.17 L170.22,257.72 L170.56,258.27 L170.90,258.82 L171.25,259.37 L171.59,259.91 L171.94,260.46 L172.29,261.00 L172.64,261.54 L173.00,262.08 L173.35,262.62 L173.71,263.16 L174.07,263.70 L174.43,264.23 L174.80,264.77 L175.16,265.30 L175.27,265.47 M180.82,273.12 L180.84,273.15 L181.24,273.66 L181.63,274.17 L182.03,274.68 L182.42,275.19 L182.82,275.70 L183.22,276.20 L183.63,276.71 L184.03,277.21 L184.44,277.71 L184.84,278.20 L185.25,278.70 L185.66,279.20 L186.08,279.69 L186.49,280.18 L186.91,280.67 L187.32,281.16 L187.74,281.65 L188.16,282.13 L188.58,282.62 L189.01,283.10 L189.43,283.58 L189.86,284.06 L190.29,284.53 L190.72,285.01 L191.15,285.48 L191.58,285.95 L192.02,286.42 L192.45,286.89 L192.89,287.36 L193.33,287.82 L193.77,288.28 L194.21,288.74 L194.66,289.20 L194.98,289.54 M200.59,295.01 L200.72,295.13 L201.18,295.56 L201.65,295.98 L202.11,296.41 L202.58,296.83 L203.05,297.25 L203.52,297.67 L204.00,298.09 L204.47,298.51 L204.95,298.92 L205.43,299.33 L205.91,299.74 L206.39,300.15 L206.87,300.55 L207.35,300.95 L207.83,301.36 L208.32,301.75 L208.81,302.15 L209.29,302.55 L209.78,302.94 L210.27,303.33 L210.77,303.72 L211.26,304.11 L211.76,304.49 L212.25,304.88 L212.75,305.26 L213.25,305.64 L213.75,306.01 L214.25,306.39 L214.75,306.76 L215.25,307.14 L215.76,307.51 L216.27,307.87 L216.77,308.24 L217.28,308.60 L217.41,308.70 M226.38,314.68 L226.47,314.74 L227.00,315.07 L227.53,315.39 L228.06,315.72 L228.59,316.05 L229.13,316.37 L229.67,316.69 L230.20,317.01 L230.74,317.33 L231.28,317.65 L231.82,317.96 L232.36,318.27 L232.91,318.58 L233.45,318.89 L233.99,319.20 L234.54,319.51 L235.09,319.81 L235.63,320.12 L236.18,320.42 L236.73,320.72 L237.28,321.01 L237.84,321.31 L238.39,321.61 L238.94,321.90 L239.50,322.19 L240.05,322.48 L240.61,322.77 L241.17,323.06 L241.73,323.34 L242.29,323.62 L242.85,323.91 L243.41,324.19 L243.97,324.46 L244.53,324.74 L245.10,325.02 L245.38,325.15 M252.73,328.56 L252.90,328.63 L253.48,328.89 L254.06,329.14 L254.64,329.39 L255.22,329.64 L255.80,329.89 L256.38,330.13 L256.96,330.38 L257.54,330.62 L258.13,330.86 L258.71,331.10 L259.30,331.34 L259.88,331.58 L260.47,331.82 L261.06,332.05 L261.65,332.29 L262.24,332.52 L262.83,332.75 L263.42,332.98 L264.01,333.21 L264.60,333.43 L265.19,333.66 L265.79,333.88 L266.38,334.11 L266.98,334.33 L267.57,334.55 L268.17,334.77 L268.77,334.99 L269.36,335.20 L269.96,335.42 L270.56,335.63 L271.16,335.84 L271.76,336.06 L272.36,336.27 L272.93,336.47 M279.78,338.74 L279.83,338.76 L280.43,338.95 L281.04,339.14 L281.65,339.34 L282.27,339.53 L282.88,339.72 L283.49,339.90 L284.10,340.09 L284.71,340.28 L285.33,340.46 L285.94,340.65 L286.56,340.83 L287.17,341.01 L287.79,341.19 L288.40,341.37 L289.02,341.55 L289.64,341.73 L290.25,341.90 L290.87,342.08 L291.49,342.25 L292.11,342.42 L292.73,342.60 L293.35,342.77 L293.97,342.94 L294.59,343.11 L295.21,343.27 L295.83,343.44 L296.45,343.61 L297.07,343.77 L297.70,343.93 L298.32,344.10 L298.94,344.26 L299.57,344.42 L300.19,344.58 L300.65,344.70 M308.58,346.63 L308.76,346.67 L309.39,346.82 L310.02,346.96 L310.65,347.11 L311.28,347.25 L311.91,347.39 L312.54,347.54 L313.17,347.68 L313.80,347.82 L314.43,347.96 L315.06,348.10 L315.69,348.23 L316.32,348.37 L316.96,348.51 L317.59,348.64 L318.22,348.78 L318.85,348.91 L319.49,349.05 L320.12,349.18 L320.75,349.31 L321.39,349.44 L322.02,349.57 L322.65,349.70 L323.29,349.83 L323.92,349.96 L324.56,350.08 L325.19,350.21 L325.83,350.34 L326.46,350.46 L327.10,350.59 L327.73,350.71 L328.37,350.83 L329.00,350.96 L329.64,351.08 L329.81,351.11 M338.73,352.75 L338.75,352.75 L339.39,352.86 L340.02,352.98 L340.66,353.09 L341.29,353.20 L341.93,353.31 L342.57,353.42 L343.20,353.53 L343.84,353.63 L344.47,353.74 L345.11,353.85 L345.74,353.96 L346.38,354.06 L347.02,354.17 L347.65,354.27 L348.29,354.38 L348.92,354.48 L349.56,354.59 L350.19,354.69 L350.83,354.79 L351.46,354.90 L352.10,355.00 L352.73,355.10 L353.37,355.20 L354.00,355.30 L354.64,355.40 L355.27,355.50 L355.91,355.60 L356.54,355.70 L357.17,355.80 L357.81,355.90 L358.44,355.99 L359.08,356.09 L359.71,356.19 L360.15,356.26 M368.80,357.55 L368.98,357.57 L369.61,357.67 L370.24,357.76 L370.87,357.85 L371.50,357.94 L372.13,358.03 L372.76,358.12 L373.39,358.21 L374.01,358.30 L374.64,358.39 L375.27,358.47 L375.90,358.56 L376.53,358.65 L377.16,358.74 L377.79,358.83 L378.42,358.91 L379.05,359.00 L379.67,359.08 L380.30,359.17 L380.93,359.26 L381.56,359.34 L382.19,359.43 L382.81,359.51 L383.44,359.60 L384.07,359.68 L384.70,359.76 L385.32,359.85 L385.95,359.93 L386.58,360.01 L387.20,360.09 L387.83,360.18 L388.46,360.26 L389.09,360.34 L389.71,360.42 L390.30,360.49 M398.44,361.51 L398.48,361.52 L399.11,361.59 L399.73,361.67 L400.36,361.75 L400.98,361.82 L401.61,361.90 L402.23,361.97 L402.86,362.04 L403.48,362.12 L404.11,362.19 L404.74,362.27 L405.36,362.34 L405.99,362.41 L406.61,362.48 L407.24,362.56 L407.86,362.63 L408.49,362.70 L409.11,362.77 L409.74,362.84 L410.37,362.91 L410.99,362.98 L411.62,363.05 L412.24,363.12 L412.87,363.19 L413.49,363.26 L414.12,363.33 L414.74,363.40 L415.37,363.47 L416.00,363.54 L416.62,363.60 L417.25,363.67 L417.87,363.74 L418.50,363.81 L419.12,363.87 L419.75,363.94 L420.00,363.96 M429.13,364.90 L429.15,364.90 L429.77,364.96 L430.40,365.02 L431.03,365.08 L431.65,365.15 L432.28,365.21 L432.91,365.27 L433.53,365.33 L434.16,365.39 L434.79,365.45 L435.42,365.51 L436.05,365.57 L436.67,365.62 L437.30,365.68 L437.93,365.74 L438.56,365.80 L439.19,365.86 L439.81,365.92 L440.44,365.97 L441.07,366.03 L441.70,366.09 L442.33,366.14 L442.96,366.20 L443.59,366.26 L444.22,366.31 L444.85,366.37 L445.48,366.42 L446.11,366.48 L446.74,366.53 L447.37,366.59 L448.00,366.64 L448.63,366.70 L449.26,366.75 L449.89,366.80 L450.52,366.86 L450.74,366.88 M460.24,367.65 L460.43,367.66 L461.06,367.71 L461.69,367.76 L462.33,367.81 L462.96,367.86 L463.60,367.90 L464.23,367.95 L464.87,368.00 L465.50,368.05 L466.14,368.10 L466.78,368.14 L467.41,368.19 L468.05,368.24 L468.68,368.28 L469.32,368.33 L469.96,368.38 L470.60,368.42 L471.23,368.47 L471.87,368.51 L472.51,368.56 L473.15,368.60 L473.79,368.65 L474.43,368.69 L475.06,368.74 L475.70,368.78 L476.34,368.83 L476.98,368.87 L477.62,368.91 L478.26,368.96 L478.90,369.00 L479.55,369.04 L480.19,369.08 L480.83,369.13 L481.47,369.17 L481.88,369.20 M489.99,369.71 L490.06,369.71 L490.70,369.75 L491.35,369.79 L492.00,369.83 L492.64,369.87 L493.29,369.91 L493.94,369.95 L494.59,369.99 L495.23,370.02 L495.88,370.06 L496.53,370.10 L497.18,370.14 L497.83,370.17 L498.48,370.21 L499.13,370.25 L499.78,370.28 L500.43,370.32 L501.09,370.36 L501.74,370.39 L502.39,370.43 L503.04,370.46 L503.70,370.50 L504.35,370.54 L505.00,370.57 L505.66,370.61 L506.31,370.64 L506.97,370.68 L507.62,370.71 L508.28,370.74 L508.93,370.78 L509.59,370.81 L510.25,370.85 L510.90,370.88 L511.56,370.91 L511.65,370.92" stroke="#0000ff" stroke-width="3.1"/>
<path d="M106.87,11.07 L106.87,10.84 L106.84,10.22 L106.82,9.69 L106.80,9.23 L106.79,8.86 L106.78,8.57 L106.77,8.35 L106.76,8.20 L106.75,8.13 L106.75,8.12 L106.75,8.17 L106.75,8.29 L106.75,8.47 L106.76,8.71 L106.77,9.00 L106.78,9.34 L106.79,9.74 L106.80,10.18 L106.82,10.66 L106.84,11.18 L106.85,11.75 L106.88,12.35 L106.90,12.99 L106.92,13.65 L106.95,14.35 L106.97,15.07 L107.00,15.81 L107.03,16.58 L107.06,17.36 L107.10,18.16 L107.13,18.98 L107.17,19.80 L107.20,20.63 L107.24,21.47 L107.28,22.31 L107.32,23.15 L107.36,23.99 L107.40,24.82 L107.44,25.65 L107.45,25.92 M107.96,34.68 L107.96,34.68 L108.01,35.46 L108.06,36.23 L108.12,37.00 L108.17,37.76 L108.22,38.53 L108.28,39.29 L108.33,40.05 L108.38,40.80 L108.44,41.55 L108.50,42.30 L108.55,43.05 L108.61,43.80 L108.67,44.54 L108.72,45.28 L108.78,46.02 L108.84,46.75 L108.90,47.49 L108.96,48.22 L109.02,48.95 L109.08,49.68 L109.15,50.40 L109.21,51.12 L109.27,51.85 L109.33,52.57 L109.40,53.28 L109.46,54.00 L109.52,54.71 L109.59,55.43 L109.65,56.14 L109.67,56.31 M110.61,66.02 L110.63,66.18 L110.70,66.87 L110.77,67.56 L110.84,68.25 L110.91,68.94 L110.98,69.63 L111.06,70.32 L111.13,71.01 L111.20,71.69 L111.27,72.38 L111.35,73.07 L111.42,73.75 L111.49,74.44 L111.57,75.12 L111.64,75.81 L111.71,76.49 L111.79,77.17 L111.86,77.86 L111.94,78.54 L112.01,79.23 L112.09,79.91 L112.16,80.59 L112.24,81.28 L112.31,81.96 L112.39,82.65 L112.46,83.33 L112.54,84.02 L112.61,84.70 L112.69,85.39 L112.76,86.07 L112.84,86.76 L112.91,87.45 L112.93,87.60 M113.93,96.61 L113.93,96.66 L114.01,97.35 L114.09,98.05 L114.17,98.74 L114.25,99.44 L114.33,100.14 L114.41,100.83 L114.49,101.53 L114.57,102.23 L114.66,102.92 L114.74,103.62 L114.82,104.32 L114.91,105.02 L114.99,105.72 L115.08,106.42 L115.16,107.12 L115.25,107.82 L115.34,108.51 L115.43,109.21 L115.52,109.91 L115.61,110.62 L115.70,111.32 L115.79,112.02 L115.88,112.72 L115.98,113.42 L116.07,114.12 L116.17,114.82 L116.27,115.52 L116.36,116.22 L116.46,116.92 L116.56,117.62 L116.64,118.14 M118.30,128.54 L118.31,128.60 L118.43,129.30 L118.56,130.00 L118.68,130.70 L118.81,131.40 L118.94,132.10 L119.07,132.80 L119.21,133.50 L119.34,134.19 L119.48,134.89 L119.62,135.59 L119.76,136.29 L119.90,136.98 L120.04,137.68 L120.19,138.38 L120.34,139.07 L120.49,139.77 L120.64,140.46 L120.79,141.15 L120.95,141.85 L121.11,142.54 L121.27,143.23 L121.43,143.93 L121.60,144.62 L121.76,145.31 L121.93,146.00 L122.10,146.69 L122.28,147.38 L122.45,148.07 L122.63,148.76 L122.81,149.45 L122.89,149.74 M125.63,159.10 L125.67,159.23 L125.89,159.91 L126.11,160.58 L126.34,161.26 L126.57,161.93 L126.80,162.60 L127.03,163.28 L127.27,163.95 L127.51,164.62 L127.75,165.29 L128.00,165.96 L128.25,166.63 L128.50,167.29 L128.75,167.96 L129.01,168.62 L129.27,169.29 L129.53,169.95 L129.80,170.61 L130.07,171.27 L130.35,171.93 L130.62,172.59 L130.90,173.25 L131.19,173.90 L131.47,174.56 L131.76,175.21 L132.06,175.87 L132.36,176.52 L132.66,177.17 L132.96,177.82 L133.27,178.47 L133.58,179.11 L133.64,179.24 M138.62,188.53 L138.67,188.63 L139.04,189.25 L139.42,189.87 L139.79,190.48 L140.17,191.09 L140.55,191.70 L140.94,192.31 L141.33,192.91 L141.73,193.52 L142.13,194.11 L142.53,194.71 L142.93,195.30 L143.34,195.89 L143.76,196.48 L144.17,197.06 L144.59,197.64 L145.02,198.22 L145.45,198.79 L145.88,199.36 L146.32,199.93 L146.76,200.49 L147.20,201.05 L147.65,201.60 L148.10,202.15 L148.55,202.70 L149.01,203.24 L149.47,203.78 L149.94,204.32 L150.41,204.85 L150.89,205.38 L151.36,205.90 L151.44,205.98 M158.28,212.55 L158.29,212.56 L158.83,213.01 L159.37,213.46 L159.91,213.90 L160.46,214.33 L161.01,214.76 L161.56,215.18 L162.12,215.60 L162.68,216.01 L163.25,216.42 L163.82,216.82 L164.39,217.22 L164.97,217.61 L165.55,218.00 L166.13,218.38 L166.72,218.76 L167.31,219.13 L167.90,219.50 L168.50,219.87 L169.10,220.22 L169.70,220.58 L170.30,220.93 L170.91,221.27 L171.52,221.61 L172.14,221.95 L172.76,222.28 L173.38,222.60 L174.00,222.92 L174.62,223.24 L175.25,223.55 L175.88,223.86 L176.51,224.17 L176.53,224.17 M184.33,227.52 L184.50,227.58 L185.17,227.84 L185.83,228.08 L186.49,228.33 L187.16,228.57 L187.83,228.80 L188.50,229.04 L189.17,229.27 L189.84,229.49 L190.52,229.71 L191.19,229.93 L191.87,230.15 L192.55,230.36 L193.23,230.57 L193.91,230.78 L194.59,230.98 L195.27,231.18 L195.96,231.37 L196.64,231.57 L197.33,231.76 L198.02,231.95 L198.70,232.13 L199.39,232.31 L200.08,232.49 L200.77,232.67 L201.46,232.84 L202.15,233.01 L202.85,233.18 L203.54,233.34 L204.23,233.50 L204.92,233.66 L205.11,233.71 M214.18,235.55 L214.20,235.55 L214.89,235.67 L215.59,235.79 L216.29,235.91 L216.99,236.03 L217.69,236.14 L218.38,236.25 L219.08,236.36 L219.78,236.47 L220.48,236.57 L221.18,236.68 L221.88,236.78 L222.58,236.87 L223.28,236.97 L223.98,237.06 L224.69,237.15 L225.39,237.24 L226.09,237.32 L226.79,237.40 L227.49,237.48 L228.19,237.56 L228.90,237.64 L229.60,237.71 L230.30,237.78 L231.00,237.85 L231.71,237.92 L232.41,237.98 L233.11,238.04 L233.82,238.10 L234.52,238.16 L235.22,238.21 L235.70,238.25 M245.55,238.76 L245.56,238.76 L246.27,238.78 L246.97,238.80 L247.68,238.81 L248.39,238.83 L249.09,238.84 L249.80,238.85 L250.50,238.85 L251.21,238.86 L251.92,238.86 L252.62,238.86 L253.33,238.86 L254.04,238.86 L254.74,238.85 L255.45,238.84 L256.16,238.83 L256.86,238.82 L257.57,238.81 L258.27,238.79 L258.98,238.77 L259.69,238.75 L260.39,238.73 L261.10,238.71 L261.81,238.68 L262.51,238.65 L263.22,238.62 L263.93,238.59 L264.63,238.55 L265.34,238.52 L266.05,238.48 L266.75,238.44 L267.24,238.41 M275.50,237.77 L275.70,237.75 L276.40,237.69 L277.11,237.62 L277.82,237.55 L278.52,237.47 L279.23,237.40 L279.93,237.32 L280.64,237.24 L281.34,237.16 L282.05,237.08 L282.75,237.00 L283.46,236.91 L284.16,236.82 L284.86,236.73 L285.57,236.64 L286.27,236.55 L286.98,236.45 L287.68,236.35 L288.38,236.26 L289.09,236.15 L289.79,236.05 L290.49,235.95 L291.20,235.84 L291.90,235.73 L292.60,235.62 L293.30,235.51 L294.01,235.40 L294.71,235.29 L295.41,235.17 L296.11,235.05 L296.81,234.93 L297.01,234.90 M306.57,233.08 L306.60,233.07 L307.30,232.93 L308.00,232.78 L308.70,232.63 L309.39,232.48 L310.09,232.33 L310.78,232.17 L311.48,232.02 L312.18,231.86 L312.87,231.70 L313.56,231.54 L314.26,231.37 L314.95,231.21 L315.65,231.04 L316.34,230.88 L317.03,230.71 L317.72,230.54 L318.42,230.36 L319.11,230.19 L319.80,230.01 L320.49,229.83 L321.18,229.65 L321.87,229.47 L322.56,229.29 L323.25,229.10 L323.93,228.92 L324.62,228.73 L325.31,228.54 L326.00,228.35 L326.68,228.15 L327.37,227.96 L327.63,227.88 M336.54,225.17 L336.69,225.12 L337.37,224.90 L338.05,224.68 L338.73,224.46 L339.40,224.23 L340.08,224.01 L340.75,223.78 L341.43,223.55 L342.10,223.32 L342.78,223.08 L343.45,222.85 L344.12,222.61 L344.79,222.37 L345.46,222.13 L346.13,221.89 L346.80,221.65 L347.47,221.40 L348.14,221.15 L348.81,220.90 L349.47,220.65 L350.14,220.40 L350.80,220.15 L351.47,219.89 L352.13,219.64 L352.80,219.38 L353.46,219.12 L354.12,218.85 L354.78,218.59 L355.44,218.32 L356.10,218.06 L356.76,217.79 L356.91,217.73 M364.95,214.28 L365.04,214.24 L365.69,213.95 L366.33,213.65 L366.98,213.36 L367.62,213.06 L368.27,212.76 L368.91,212.46 L369.55,212.16 L370.20,211.86 L370.84,211.55 L371.48,211.24 L372.12,210.93 L372.75,210.62 L373.39,210.31 L374.03,210.00 L374.66,209.68 L375.30,209.37 L375.93,209.05 L376.56,208.73 L377.19,208.41 L377.83,208.08 L378.45,207.76 L379.08,207.43 L379.71,207.10 L380.34,206.77 L380.96,206.44 L381.59,206.10 L382.21,205.77 L382.83,205.43 L383.46,205.09 L384.08,204.75 L384.36,204.59 M392.82,199.71 L392.86,199.69 L393.46,199.33 L394.06,198.96 L394.66,198.59 L395.27,198.22 L395.86,197.85 L396.46,197.47 L397.06,197.10 L397.66,196.72 L398.25,196.34 L398.85,195.96 L399.44,195.58 L400.03,195.19 L400.62,194.81 L401.21,194.42 L401.80,194.03 L402.38,193.64 L402.97,193.25 L403.55,192.85 L404.13,192.46 L404.72,192.06 L405.30,191.66 L405.88,191.26 L406.45,190.86 L407.03,190.45 L407.61,190.05 L408.18,189.64 L408.75,189.23 L409.32,188.82 L409.89,188.41 L410.46,188.00 L410.88,187.69 M417.66,182.52 L417.74,182.47 L418.29,182.03 L418.83,181.59 L419.38,181.15 L419.93,180.71 L420.47,180.26 L421.01,179.82 L421.56,179.37 L422.10,178.92 L422.63,178.47 L423.17,178.02 L423.71,177.57 L424.24,177.11 L424.77,176.66 L425.30,176.20 L425.83,175.74 L426.36,175.28 L426.89,174.81 L427.41,174.35 L427.94,173.88 L428.46,173.42 L428.98,172.95 L429.50,172.47 L430.02,172.00 L430.53,171.53 L431.05,171.05 L431.56,170.57 L432.07,170.09 L432.58,169.61 L433.09,169.13 L433.60,168.64 L434.00,168.26 M439.74,162.51 L439.88,162.37 L440.36,161.86 L440.85,161.35 L441.33,160.84 L441.81,160.33 L442.28,159.82 L442.76,159.30 L443.24,158.79 L443.71,158.27 L444.18,157.75 L444.65,157.23 L445.12,156.70 L445.58,156.18 L446.05,155.65 L446.51,155.12 L446.97,154.60 L447.43,154.06 L447.89,153.53 L448.34,153.00 L448.79,152.46 L449.25,151.92 L449.70,151.38 L450.14,150.84 L450.59,150.30 L451.04,149.76 L451.48,149.21 L451.92,148.66 L452.36,148.11 L452.80,147.56 L453.23,147.01 L453.67,146.46 L453.93,146.11 M461.11,136.30 L461.16,136.22 L461.56,135.64 L461.96,135.06 L462.35,134.47 L462.75,133.88 L463.14,133.30 L463.53,132.71 L463.92,132.11 L464.31,131.52 L464.70,130.93 L465.08,130.33 L465.46,129.74 L465.84,129.14 L466.22,128.54 L466.60,127.94 L466.98,127.34 L467.35,126.74 L467.72,126.13 L468.10,125.53 L468.47,124.92 L468.83,124.31 L469.20,123.70 L469.57,123.09 L469.93,122.48 L470.29,121.87 L470.65,121.26 L471.01,120.64 L471.37,120.03 L471.72,119.41 L472.08,118.79 L472.43,118.17 L472.59,117.89 M476.94,109.90 L476.98,109.82 L477.32,109.18 L477.65,108.55 L477.97,107.91 L478.30,107.28 L478.63,106.64 L478.95,106.00 L479.27,105.36 L479.60,104.72 L479.92,104.08 L480.23,103.44 L480.55,102.80 L480.87,102.16 L481.18,101.51 L481.50,100.87 L481.81,100.22 L482.12,99.58 L482.43,98.93 L482.74,98.28 L483.04,97.63 L483.35,96.98 L483.65,96.33 L483.96,95.68 L484.26,95.03 L484.56,94.38 L484.86,93.73 L485.15,93.07 L485.45,92.42 L485.75,91.76 L486.04,91.11 L486.33,90.45 L486.37,90.36 M490.14,81.62 L490.22,81.43 L490.49,80.77 L490.77,80.10 L491.04,79.44 L491.31,78.78 L491.59,78.11 L491.86,77.44 L492.12,76.78 L492.39,76.11 L492.66,75.44 L492.93,74.78 L493.19,74.11 L493.45,73.44 L493.72,72.77 L493.98,72.11 L494.24,71.44 L494.50,70.77 L494.76,70.10 L495.02,69.43 L495.27,68.76 L495.53,68.09 L495.78,67.42 L496.04,66.75 L496.29,66.08 L496.54,65.41 L496.79,64.74 L497.04,64.06 L497.29,63.39 L497.54,62.72 L497.79,62.05 L498.02,61.41 M501.26,52.33 L501.31,52.19 L501.54,51.52 L501.77,50.84 L502.01,50.17 L502.24,49.50 L502.47,48.83 L502.70,48.16 L502.92,47.48 L503.15,46.81 L503.38,46.14 L503.61,45.47 L503.83,44.80 L504.06,44.13 L504.28,43.45 L504.50,42.78 L504.73,42.11 L504.95,41.44 L505.17,40.77 L505.39,40.10 L505.61,39.43 L505.83,38.76 L506.05,38.09 L506.27,37.42 L506.48,36.76 L506.70,36.09 L506.92,35.42 L507.13,34.75 L507.35,34.08 L507.56,33.42 L507.77,32.75 L507.99,32.08 L508.10,31.73 M510.90,22.80 L510.97,22.58 L511.17,21.92 L511.38,21.26 L511.58,20.60 L511.78,19.94 L511.99,19.29 L512.19,18.63 L512.39,17.97 L512.59,17.32 L512.79,16.66 L512.99,16.01 L513.19,15.36 L513.39,14.70 L513.59,14.05 L513.79,13.40 L513.98,12.75 L514.18,12.10 L514.38,11.45 L514.57,10.80 L514.77,10.15 L514.97,9.51 L515.16,8.86 L515.36,8.21 L515.55,7.57 L515.74,6.92 L515.94,6.28 L516.13,5.64 L516.20,5.42" stroke="#ff7ef4" stroke-width="3.1"/>
</g>
<line x1="73" y1="389.50" x2="82.8" y2="389.50" stroke="#262626" stroke-width="1.4"/>
<text transform="translate(59.7,389.50) rotate(-90) scale(0.91,1)" text-anchor="middle" class="tl" style="font-size:17px">0.0</text>
<line x1="73" y1="298.80" x2="82.8" y2="298.80" stroke="#262626" stroke-width="1.4"/>
<text transform="translate(59.7,298.80) rotate(-90) scale(0.91,1)" text-anchor="middle" class="tl" style="font-size:17px">0.5</text>
<line x1="73" y1="208.10" x2="82.8" y2="208.10" stroke="#262626" stroke-width="1.4"/>
<text transform="translate(59.7,208.10) rotate(-90) scale(0.91,1)" text-anchor="middle" class="tl" style="font-size:17px">1.0</text>
<line x1="73" y1="117.40" x2="82.8" y2="117.40" stroke="#262626" stroke-width="1.4"/>
<text transform="translate(59.7,117.40) rotate(-90) scale(0.91,1)" text-anchor="middle" class="tl" style="font-size:17px">1.5</text>
<line x1="73" y1="26.70" x2="82.8" y2="26.70" stroke="#262626" stroke-width="1.4"/>
<text transform="translate(59.7,26.70) rotate(-90) scale(0.91,1)" text-anchor="middle" class="tl" style="font-size:17px">2.0</text>
<line x1="99.56" y1="404.2" x2="99.56" y2="413.6" stroke="#262626" stroke-width="1.4"/>
<text transform="translate(99.56,440.5) scale(0.92,1)" text-anchor="middle" class="tl">0.0</text>
<line x1="239.21" y1="404.2" x2="239.21" y2="413.6" stroke="#262626" stroke-width="1.4"/>
<text transform="translate(239.21,440.5) scale(0.92,1)" text-anchor="middle" class="tl">0.5</text>
<line x1="378.86" y1="404.2" x2="378.86" y2="413.6" stroke="#262626" stroke-width="1.4"/>
<text transform="translate(378.86,440.5) scale(0.92,1)" text-anchor="middle" class="tl">1.0</text>
<line x1="518.51" y1="404.2" x2="518.51" y2="413.6" stroke="#262626" stroke-width="1.4"/>
<text transform="translate(518.51,440.5) scale(0.92,1)" text-anchor="middle" class="tl">1.5</text>
<text x="308.5" y="481" text-anchor="middle" class="tl">x</text>
<text transform="translate(20.2,208.2) rotate(-90)" text-anchor="middle" class="tl">h(x)</text>
<rect x="205.9" y="26.7" width="203.4" height="108.3" fill="#fff" stroke="#262626" stroke-width="1.4"/>
<line x1="219.2" y1="44.40" x2="246.2" y2="44.40" stroke="#ff0000" stroke-width="3.1" stroke-dasharray="3.1 9.3" stroke-linecap="round"/>
<text x="259.5" y="49.90" class="lg">δ=10.7, β=2.6, α=0.5</text>
<line x1="219.2" y1="62.60" x2="246.2" y2="62.60" stroke="#00ff00" stroke-width="3.1" stroke-dasharray="3.1 9.3" stroke-linecap="round"/>
<text x="259.5" y="68.10" class="lg">δ=10.4, β=3.5, α=0.5</text>
<line x1="219.2" y1="80.80" x2="246.2" y2="80.80" stroke="#000000" stroke-width="3.1" stroke-dasharray="3.1 9.3" stroke-linecap="round"/>
<text x="259.5" y="86.30" class="lg">δ=0.5, β=0.2, α=2.9</text>
<line x1="219.2" y1="99.00" x2="246.2" y2="99.00" stroke="#0000ff" stroke-width="3.1" stroke-dasharray="3.1 9.3" stroke-linecap="round"/>
<text x="259.5" y="104.50" class="lg">δ=6.0, β=2.4, α=0.3</text>
<line x1="219.2" y1="117.20" x2="246.2" y2="117.20" stroke="#ff7ef4" stroke-width="3.1" stroke-dasharray="3.1 9.3" stroke-linecap="round"/>
<text x="259.5" y="122.70" class="lg">δ=0.5, β=0.8, α=0.5</text>
</svg>
</body></html>
